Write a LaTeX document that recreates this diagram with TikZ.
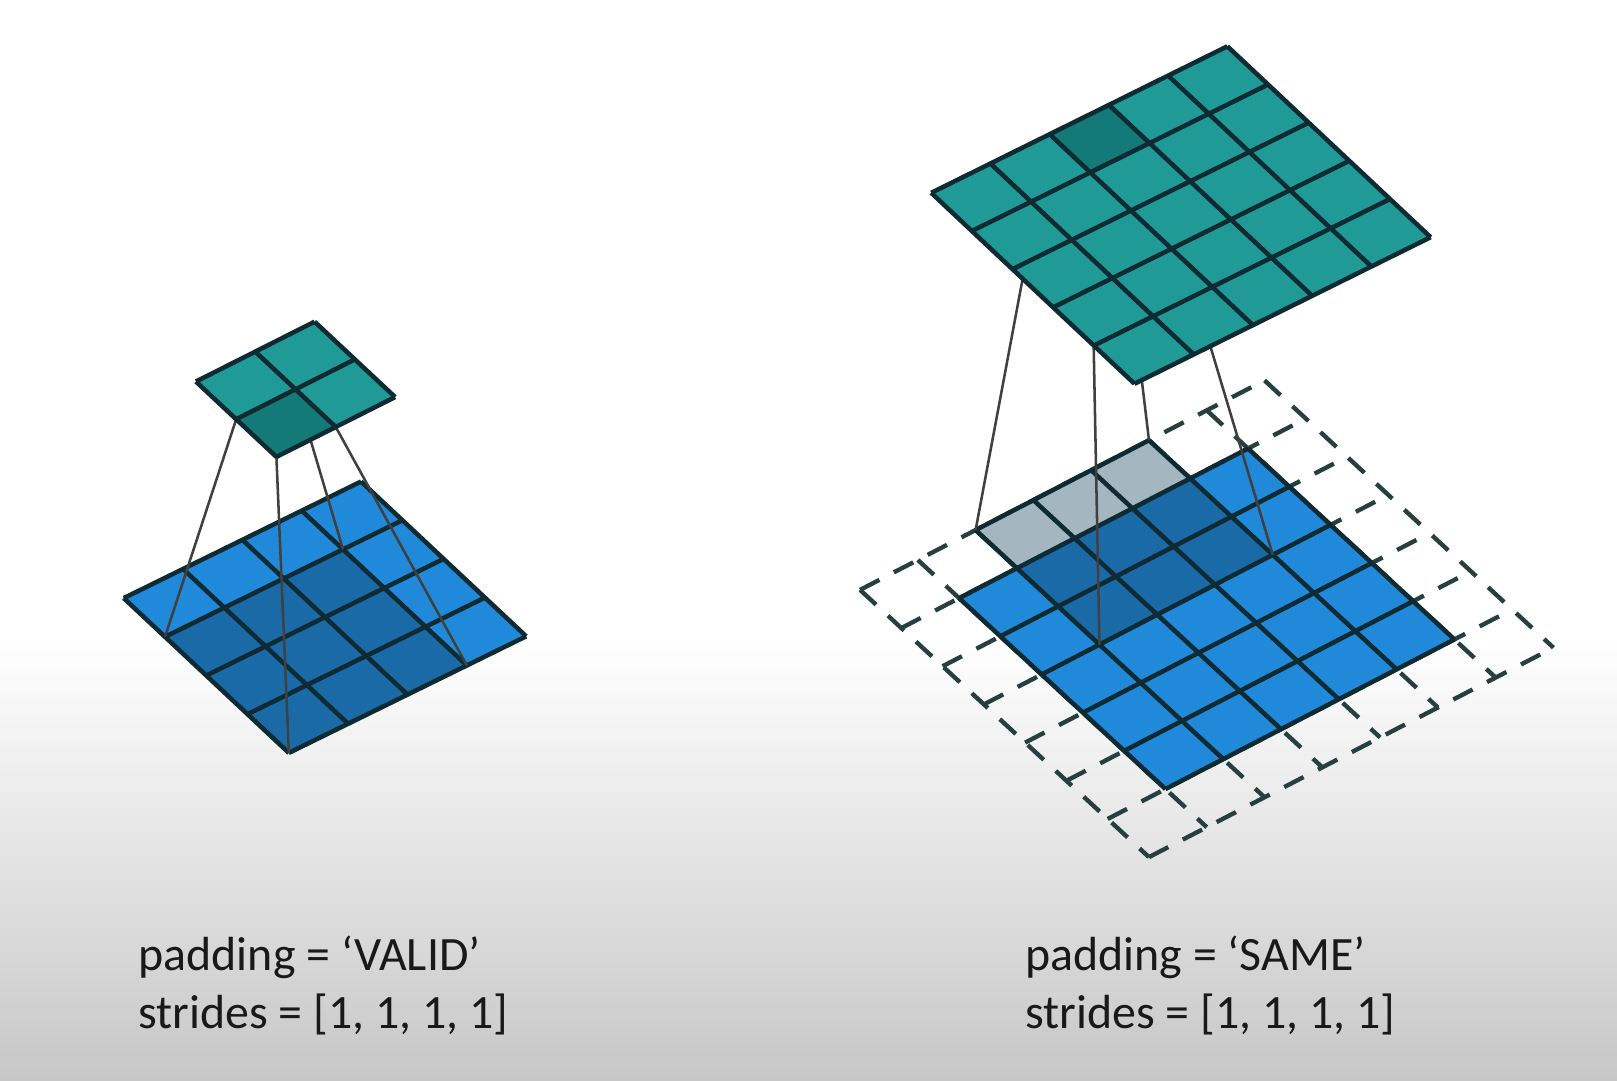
\documentclass[tikz,border=0pt]{standalone}
\usepackage{fontspec}
\setmainfont{Carlito}
\usetikzlibrary{calc}
\definecolor{tealcell}{HTML}{1F9A96}
\definecolor{tealdark}{HTML}{137A78}
\definecolor{bluecell}{HTML}{2189DA}
\definecolor{bluedark}{HTML}{1A6AA8}
\definecolor{padgray}{HTML}{A4B6BF}
\definecolor{gridline}{HTML}{0E2A33}
\definecolor{dashline}{HTML}{25403F}
% block of cells from (#2,#3) to (#4,#5) in the current grid axes
\newcommand{\cellblock}[5]{\fill[#1] (#2,#3) -- (#4,#3) -- (#4,#5) -- (#2,#5) -- cycle;}

\begin{document}
\begin{tikzpicture}[
    x=0.01cm, y=-0.01cm,
    gridpen/.style={draw=gridline, line width=1.25pt, line join=round},
    padpen/.style={draw=dashline, line width=1.2pt, dash pattern=on 6pt off 4.5pt},
    link/.style={draw=black!75, line width=0.7pt},
    caption/.style={font=\fontsize{13.2}{16}\selectfont, align=left, anchor=north west, text=black!90}
]

% page and background shade
\useasboundingbox (0,0) rectangle (1568,1048);
\fill[white] (0,0) rectangle (1568,1048);
\shade[top color=white, bottom color=black!22] (0,620) rectangle (1568,1048);

% ---------- VALID ----------
% input 4x4
\begin{scope}[shift={(120,580)}, x={(0.575cm,0.2825cm)}, y={(0.4cm,-0.375cm)}]
  \cellblock{bluecell}{0}{0}{4}{4}
  \cellblock{bluedark}{0}{1}{3}{4}
  \foreach \k in {0,...,4} {
    \draw[gridpen] (\k,0) -- (\k,4);
    \draw[gridpen] (0,\k) -- (4,\k);
  }
  \coordinate (va) at (0,1);
  \coordinate (vb) at (3,1);
  \coordinate (vc) at (3,4);
  \coordinate (vd) at (0,4);
\end{scope}
% output 2x2
\begin{scope}[shift={(190,370)}, x={(0.575cm,0.29cm)}, y={(0.39cm,-0.365cm)}]
  \coordinate (wa) at (0,1);
  \coordinate (wb) at (1,1);
  \coordinate (wc) at (1,2);
  \coordinate (wd) at (0,2);
\end{scope}
\draw[link] (wa) -- (va);
\draw[link] (wb) -- (vb);
\draw[link] (wc) -- (vc);
\draw[link] (wd) -- (vd);
\begin{scope}[shift={(190,370)}, x={(0.575cm,0.29cm)}, y={(0.39cm,-0.365cm)}]
  \cellblock{tealcell}{0}{0}{2}{2}
  \cellblock{tealdark}{0}{1}{1}{2}
  \foreach \k in {0,...,2} {
    \draw[gridpen] (\k,0) -- (\k,2);
    \draw[gridpen] (0,\k) -- (2,\k);
  }
\end{scope}

% ---------- SAME ----------
% padded 7x7 (dashed) with the 5x5 input inside
\begin{scope}[shift={(834,572)}, x={(0.56cm,0.29cm)}, y={(0.4cm,-0.37cm)}]
  \foreach \k in {0,...,7} {
    \draw[padpen] (\k,0) -- (\k,7);
    \draw[padpen] (0,\k) -- (7,\k);
  }
  \cellblock{padgray}{2}{0}{5}{1}
  \cellblock{bluecell}{1}{1}{6}{6}
  \cellblock{bluedark}{2}{1}{5}{3}
  \draw[gridpen] (2,0) -- (5,0) (2,0) -- (2,1) (3,0) -- (3,1) (4,0) -- (4,1) (5,0) -- (5,1);
  \foreach \k in {1,...,6} {
    \draw[gridpen] (\k,1) -- (\k,6);
    \draw[gridpen] (1,\k) -- (6,\k);
  }
  \coordinate (sa) at (2,0);
  \coordinate (sb) at (5,0);
  \coordinate (sc) at (5,3);
  \coordinate (sd) at (2,3);
\end{scope}
% output 5x5
\begin{scope}[shift={(903,187)}, x={(0.574cm,0.284cm)}, y={(0.394cm,-0.37cm)}]
  \coordinate (ta) at (2,0);
  \coordinate (tb) at (3,0);
  \coordinate (tc) at (3,1);
  \coordinate (td) at (2,1);
\end{scope}
\draw[link] (ta) -- (sa);
\draw[link] (tb) -- (sb);
\draw[link] (tc) -- (sc);
\draw[link] (td) -- (sd);
\begin{scope}[shift={(903,187)}, x={(0.574cm,0.284cm)}, y={(0.394cm,-0.37cm)}]
  \cellblock{tealcell}{0}{0}{5}{5}
  \cellblock{tealdark}{2}{0}{3}{1}
  \foreach \k in {0,...,5} {
    \draw[gridpen] (\k,0) -- (\k,5);
    \draw[gridpen] (0,\k) -- (5,\k);
  }
\end{scope}

% captions
\node[caption] (validtxt) at (122,895) {padding = ‘VALID’\\strides = [1, 1, 1, 1]};
\node[caption] (sametxt) at (982,895) {padding = ‘SAME’\\strides = [1, 1, 1, 1]};

\end{tikzpicture}
\end{document}
